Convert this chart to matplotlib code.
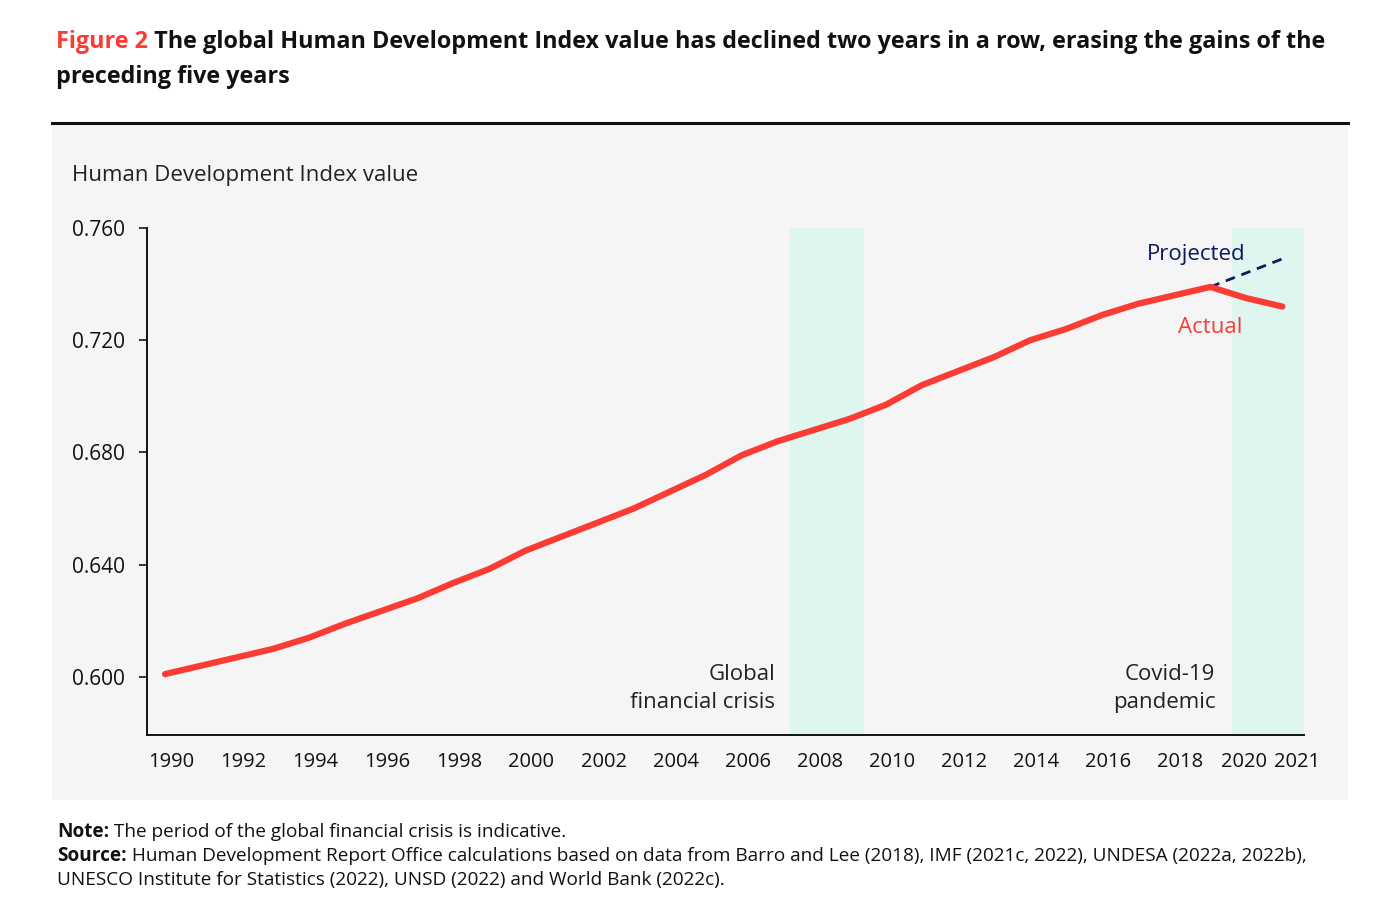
import matplotlib.pyplot as plt
import matplotlib.patches as patches
import matplotlib.transforms as mtransforms

plt.rcParams['font.family'] = ['Open Sans', 'DejaVu Sans']

years = list(range(1990, 2022))
hdi = [0.601, 0.604, 0.607, 0.610, 0.614, 0.619, 0.6235, 0.628, 0.6335, 0.6385,
       0.645, 0.650, 0.655, 0.660, 0.666, 0.672, 0.679, 0.684, 0.688, 0.692,
       0.697, 0.704, 0.709, 0.714, 0.720, 0.724, 0.729, 0.733, 0.736, 0.739,
       0.735, 0.732]
proj_years = [2019, 2020, 2021]
proj_hdi = [0.739, 0.744, 0.749]
shaded = [(2007.35, 2009.4), (2019.6, 2021.6)]
xticks = list(range(1990, 2021, 2)) + [2021]
yticks = [0.600, 0.640, 0.680, 0.720, 0.760]

red = '#fa3c35'
navy = '#0f1a5a'
W, H = 1400, 908

fig = plt.figure(figsize=(14, 9.08), dpi=100)
fig.patch.set_facecolor('white')

# grey panel + black rule
panel = patches.Rectangle((52/W, 1-800/H), 1296/W, 675/H, transform=fig.transFigure,
                          facecolor='#f5f5f5', edgecolor='none', zorder=-5)
fig.add_artist(panel)
fig.add_artist(plt.Line2D([52/W, 1348/W], [1-123/H, 1-123/H],
                          transform=fig.transFigure, color='#111111', lw=2.2, zorder=-4))

ax = fig.add_axes([147/W, 1-735/H, 1157/W, 507/H])
ax.set_facecolor('none')
for x0, x1 in shaded:
    ax.axvspan(x0, x1, color='#def5f0', lw=0, zorder=0)
ax.plot(years, hdi, color=red, lw=4.5, solid_capstyle='round', solid_joinstyle='round', zorder=3)
ax.plot(proj_years, proj_hdi, color=navy, lw=2, ls=(0, (3.5, 2.5)), zorder=2)

ax.set_xlim(1989.5, 2021.6)
ax.set_ylim(0.5793, 0.760)
ax.set_xticks(xticks)
ax.set_yticks(yticks)
ax.set_yticklabels(['%.3f' % v for v in yticks])
ax.tick_params(axis='x', length=0, pad=12, labelsize=14.5, colors='#111111')
ax.tick_params(axis='y', length=6, width=1.2, pad=10, labelsize=15, colors='#111111')
for s in ['top', 'right']:
    ax.spines[s].set_visible(False)
for s in ['left', 'bottom']:
    ax.spines[s].set_linewidth(1.4)
    ax.spines[s].set_color('#111111')

# nudge x labels a bit right, 2021 more so it clears 2020 (offsets in inches)
for lab, yr in zip(ax.get_xticklabels(), xticks):
    dx = 0.06
    if yr == 2020:
        dx = -0.02
    elif yr == 2021:
        dx = 0.15
    lab.set_transform(lab.get_transform() + mtransforms.ScaledTranslation(dx, 0, fig.dpi_scale_trans))

ax.text(2006.93, 0.6045, 'Global\nfinancial crisis', ha='right', va='top', fontsize=16,
        color='#222222', linespacing=1.45)
ax.text(2019.14, 0.6045, 'Covid-19\npandemic', ha='right', va='top', fontsize=16,
        color='#222222', linespacing=1.45)
ax.text(2018.6, 0.7505, 'Projected', ha='center', va='center', fontsize=16, color=navy)
ax.text(2019.0, 0.7247, 'Actual', ha='center', va='center', fontsize=16, color=red)

fig.text(72/W, 1-176/H, 'Human Development Index value', ha='left', va='center',
         fontsize=16, color='#222222')

fig.canvas.draw()
renderer = fig.canvas.get_renderer()


def two_part(x, y, bold, rest, size, bold_color):
    t = fig.text(x/W, 1-y/H, bold, ha='left', va='baseline', fontsize=size,
                 fontweight='bold', color=bold_color)
    bb = t.get_window_extent(renderer)
    fig.text(bb.x1/W, 1-y/H, rest, ha='left', va='baseline', fontsize=size,
             fontweight=('bold' if bold_color == red else 'normal'), color='#111111')


# title
two_part(56, 48, 'Figure 2', ' The global Human Development Index value has declined two years in a row, erasing the gains of the',
         16.8, red)
fig.text(56/W, 1-83/H, 'preceding five years', ha='left', va='baseline', fontsize=16.8,
         fontweight='bold', color='#111111')

# notes
two_part(57, 837, 'Note:', ' The period of the global financial crisis is indicative.', 13.7, '#111111')
two_part(57, 861, 'Source:', ' Human Development Report Office calculations based on data from Barro and Lee (2018), IMF (2021c, 2022), UNDESA (2022a, 2022b),',
         13.7, '#111111')
fig.text(57/W, 1-885/H, 'UNESCO Institute for Statistics (2022), UNSD (2022) and World Bank (2022c).',
         ha='left', va='baseline', fontsize=13.7, color='#111111')

fig.savefig('out.png', dpi=100)
